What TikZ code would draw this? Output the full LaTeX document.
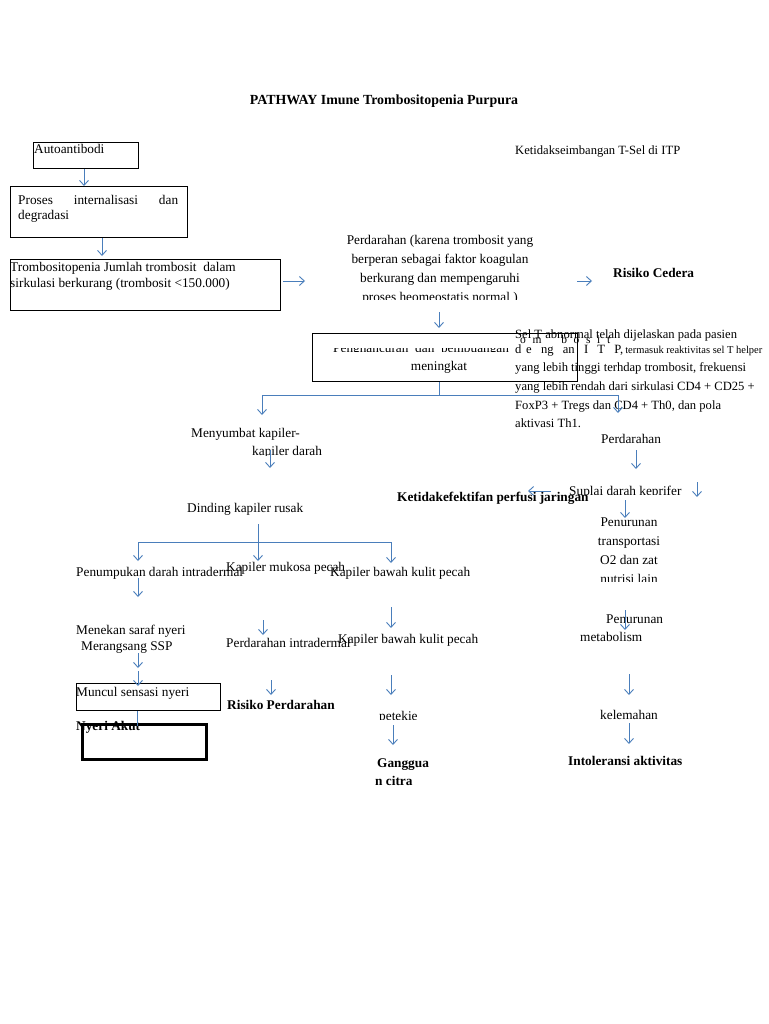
\documentclass[tikz,border=0pt]{standalone}
\usepackage{fontspec}
\setmainfont{Liberation Serif}
\usetikzlibrary{arrows.meta}
\definecolor{arr}{HTML}{4A7EBB}
\tikzset{
  arw/.style={draw=arr, line width=0.9pt, -{Straight Barb[length=5pt,width=9pt,line width=0.9pt]}},
  ln/.style={draw=arr, line width=0.9pt},
  bx/.style={draw=black, line width=0.8pt, inner sep=0pt, anchor=north west},
  tx/.style={inner sep=0pt, anchor=base west, font=\fontsize{13.3}{16}\selectfont},
  bt/.style={tx, font=\fontsize{13.3}{16}\selectfont\bfseries},
  sm/.style={tx, font=\fontsize{12.6}{15}\selectfont},
}
\begin{document}
\begin{tikzpicture}[x=1pt,y=-1pt]
\useasboundingbox[fill=white] (0,0) rectangle (768,1024);

% title
\node[bt, anchor=base, font=\fontsize{13.9}{16}\selectfont\bfseries] (title) at (384,105) {PATHWAY Imune Trombositopenia Purpura};
\node[sm] (tsel) at (515,155) {Ketidakseimbangan T-Sel di ITP};

% left top chain
\node[bx, minimum width=105, minimum height=26] (autobox) at (33,142) {};
\node[tx] (auto) at (34,154) {Autoantibodi};
\node[bx, minimum width=177, minimum height=51] (procbox) at (10,186) {};
\node[tx, anchor=north west, align=left, font=\fontsize{13.3}{15.5}\selectfont] (proc) at (18,195)
  {\makebox[160pt][s]{Proses internalisasi dan}\\degradasi};
\node[bx, minimum width=270, minimum height=51] (trombox) at (10,259) {};
\node[tx, anchor=north west, align=left, font=\fontsize{13.3}{16}\selectfont] (trom) at (10,262)
  {Trombositopenia Jumlah trombosit\ \ dalam\\sirkulasi berkurang (trombosit <150.000)};

% perdarahan (clipped last line)
\begin{scope}
  \clip (300,225) rectangle (580,299.5);
  \node[tx, anchor=north, align=center, font=\fontsize{13.3}{19}\selectfont] (perd) at (440,235)
    {Perdarahan (karena trombosit yang\\berperan sebagai faktor koagulan\\berkurang dan mempengaruhi\\proses heomeostatis normal )};
\end{scope}
\coordinate (perdw) at (305,281);
\coordinate (perde) at (577,281);
\node[bt] (cedera) at (613,277) {Risiko Cedera};

% penghancuran box
\node[bx, minimum width=265, minimum height=48] (pengbox) at (312,333) {};
\begin{scope}
  \clip (315,348) rectangle (575,351.2);
  \node[tx] (peng1) at (333,352) {Penghancuran\ \ dan\ \ pembuangan};
\end{scope}
\node[tx, font=\fontsize{11.5}{13}\selectfont] (peng2) at (520,343) {\makebox[90pt][s]{o m \ \ b o s i t}};
\node[tx, anchor=base] (meningkat) at (439,370) {meningkat};

% Sel T block
\node[sm] (selt1) at (515,338) {Sel T abnormal telah dijelaskan pada pasien};
\node[sm] (selt2) at (515,353) {\makebox[108pt][s]{d e \ ng \ an \ I \ T \ P,}\,{\fontsize{10.5}{12}\selectfont termasuk reaktivitas sel T helper}};
\node[sm] (selt3) at (515,371) {yang lebih tinggi terhdap trombosit, frekuensi};
\node[sm] (selt4) at (515,390) {yang lebih rendah dari sirkulasi CD4 + CD25 +};
\node[sm] (selt5) at (515,409) {FoxP3 + Tregs dan CD4 + Th0, dan pola};
\node[sm] (selt6) at (515,427) {aktivasi Th1.};

% left branch
\node[tx] (meny1) at (191,437) {Menyumbat kapiler-};
\begin{scope}
  \clip (240,440) rectangle (340,455.5);
  \node[tx] (meny2) at (252,455) {kapiler darah};
\end{scope}
\node[tx] (dinding) at (187,512) {Dinding kapiler rusak};
\node[tx] (penump) at (76,576) {Penumpukan darah intradermal};
\node[tx] (mukosa) at (226,571) {Kapiler mukosa pecah};
\node[tx] (bawah1) at (330,576) {Kapiler bawah kulit pecah};
\node[tx] (menekan) at (76,634) {Menekan saraf nyeri};
\node[tx] (meransang) at (81,650) {Merangsang SSP};
\node[bx, minimum width=144, minimum height=27] (muncbox) at (76,683) {};
\node[tx] (muncul) at (76,696) {Muncul sensasi nyeri};
\node[bx, line width=2.6pt, minimum width=124, minimum height=35] (nyeribox) at (81,723) {};
\node[bt] (nyeri) at (76,730) {Nyeri Akut};
\node[tx] (perdintra) at (226,647) {Perdarahan intradermal};
\node[bt] (rperd) at (227,709) {Risiko Perdarahan};
\node[tx] (bawah2) at (338,643) {Kapiler bawah kulit pecah};
\begin{scope}
  \clip (360,700) rectangle (440,719);
  \node[tx] (petekie) at (379,720) {petekie};
\end{scope}
\node[bt] (gang1) at (377,767) {Ganggua};
\node[bt] (gang2) at (375,785) {n citra};

% right branch
\node[tx] (perd2) at (601,443) {Perdarahan};
\begin{scope}
  \clip (560,478) rectangle (700,494);
  \node[tx] (suplai) at (569,495) {Suplai darah keprifer};
\end{scope}
\node[bt] (perfusi) at (397,501) {Ketidakefektifan perfusi jaringan};
\begin{scope}
  \clip (570,510) rectangle (700,581);
  \node[tx, anchor=north, align=center, font=\fontsize{13.3}{19}\selectfont] (penur1) at (629,518)
    {Penurunan\\transportasi\\O2 dan zat\\nutrisi lain};
\end{scope}
\node[tx] (penur2) at (606,623) {Penurunan};
\node[tx] (metab) at (580,641) {metabolism};
\node[tx] (lemah) at (600,719) {kelemahan};
\node[bt] (intol) at (568,765) {Intoleransi aktivitas};

% connectors
\draw[arw] (autobox.south -| 84,0) -- (84,186);
\draw[arw] (102,238) -- (102,256);
\draw[arw] (283,281) -- (perdw);
\draw[arw] (perde) -- (592,281);
\draw[arw] (439,312) coordinate (a0) -- (439,328) coordinate (a0e);
\draw[ln] (pengbox.south -| 439,0) -- (439,395) coordinate (j1);
\draw[ln] (262,395) coordinate (j1l) -- (618,395) coordinate (j1r);
\draw[arw] (j1l) -- (262,415);
\draw[arw] (j1r) -- (618,413);
\draw[arw] (270,450) -- (270,468);
\draw[ln] (258,524) -- (258,542) coordinate (j2);
\draw[ln] (138,542) coordinate (j2l) -- (391,542) coordinate (j2r);
\draw[arw] (j2l) -- (138,561);
\draw[arw] (j2) -- (258,561);
\draw[arw] (j2r) -- (391,563);
\draw[arw] (138,578) -- (138,597);
\draw[arw] (138,653) -- (138,668);
\draw[arw] (138,671) -- (138,686);
\draw[ln] (muncbox.south -| 137,0) -- (137,726);
\draw[arw] (263,620) -- (263,635);
\draw[arw] (271,680) -- (271,695);
\draw[arw] (391,607) -- (391,628);
\draw[arw] (391,675) -- (391,695);
\draw[arw] (393,725) -- (393,745);
\draw[arw] (636,450) -- (636,469);
\draw[arw] (697,482) -- (697,497);
\draw[arw] (551,491) -- (528,491);
\draw[arw] (625,500) -- (625,518);
\draw[arw] (625,610) -- (625,630);
\draw[arw] (629,674) -- (629,695);
\draw[arw] (629,723) -- (629,744);
\end{tikzpicture}
\end{document}
